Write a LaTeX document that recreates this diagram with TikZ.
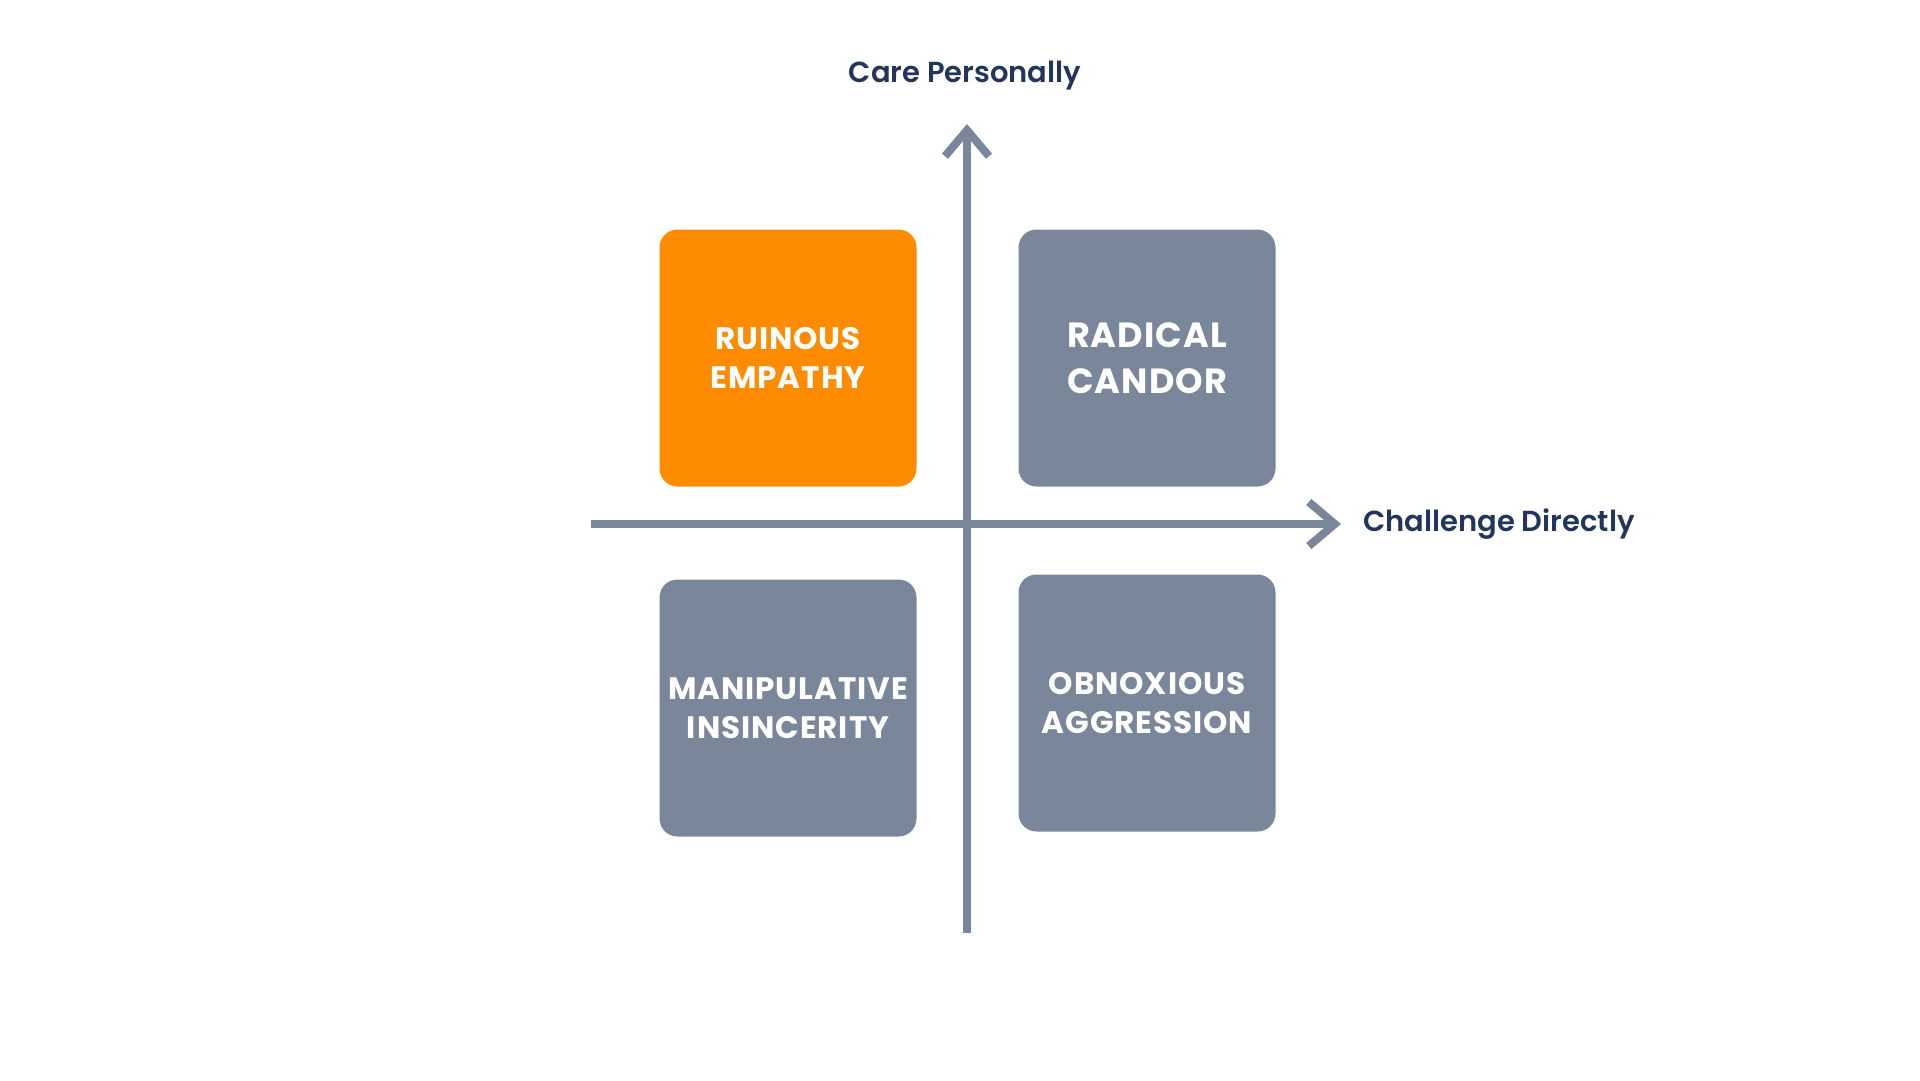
\documentclass[tikz,border=0pt]{standalone}
\usepackage{fontspec}
\setmainfont{Poppins}[BoldFont={* SemiBold}]
\newfontfamily\boxfont{Poppins}[LetterSpace=3]
\usetikzlibrary{positioning,arrows.meta}
\usepackage{xcolor}
\definecolor{axisgray}{HTML}{7A8699}
\definecolor{ruinorange}{HTML}{FF8C00}
\definecolor{labelnavy}{HTML}{22355A}

\begin{document}
\begin{tikzpicture}[
      x=1pt, y=-1pt,
      quad/.style={rounded corners=18pt, fill=axisgray, text=white,
                   minimum width=257pt, minimum height=257pt, align=center,
                   inner sep=0pt, font=\boxfont\bfseries\fontsize{31}{39}\selectfont},
      axislbl/.style={text=labelnavy, font=\bfseries\fontsize{29}{32}\selectfont, inner sep=0pt},
      axis/.style={draw=axisgray, line width=8pt,
                   -{Straight Barb[length=26pt, width=44pt, line width=8pt]}}]
    \useasboundingbox (0,0) rectangle (1920,1080);
    % quadrants
    \node[quad, fill=ruinorange] (ruinous) at (788,358) {RUINOUS\\EMPATHY};
    \node[quad, font=\boxfont\bfseries\fontsize{35}{46}\selectfont] (radical) at (1147,358) {RADICAL\\CANDOR};
    \node[quad] (manip) at (788,708) {MANIPULATIVE\\INSINCERITY};
    \node[quad] (obnox) at (1147,703) {OBNOXIOUS\\AGGRESSION};
    % axes
    \coordinate (vbot) at (967,933);
    \coordinate (vtop) at (967,124);
    \coordinate (hleft) at (591,524);
    \coordinate (hright) at (1341,524);
    \draw[axis] (vbot) -- (vtop);
    \draw[axis] (hleft) -- (hright);
    \node[axislbl] (care) at (965,76) {Care Personally};
    \node[axislbl, anchor=west] (challenge) at (1363,524) {Challenge Directly};
  \end{tikzpicture}
\end{document}
